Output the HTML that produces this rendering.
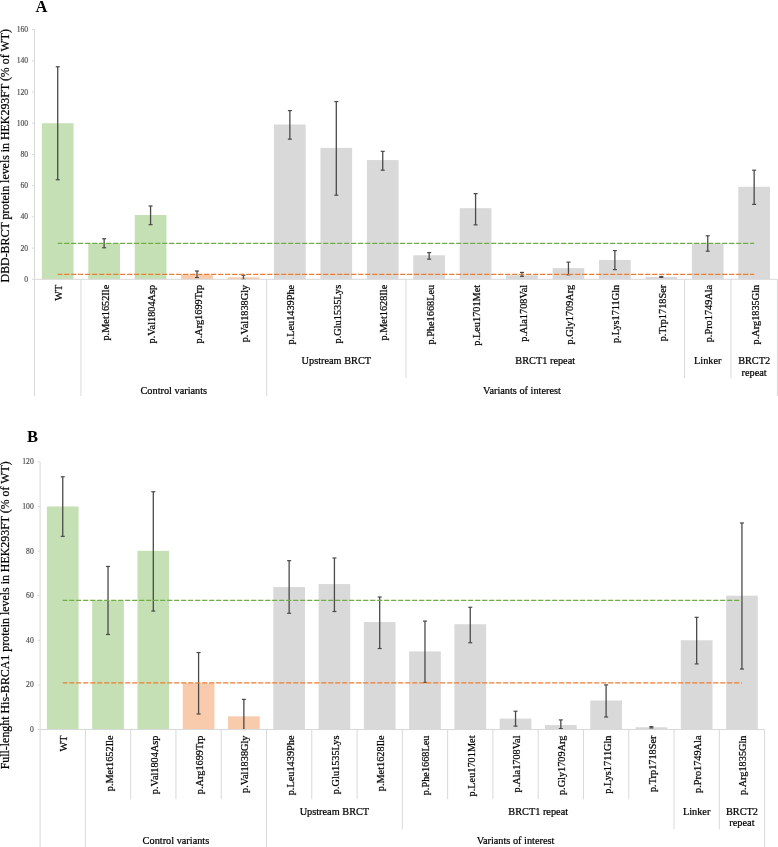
<!DOCTYPE html>
<html><head><meta charset="utf-8"><style>
html,body{margin:0;padding:0;background:#fff;width:778px;height:847px;overflow:hidden}
svg{display:block;will-change:transform}
text{font-family:"Liberation Serif", serif}
.t{stroke:#000;stroke-width:0.22}
</style></head><body>
<svg width="778" height="847" viewBox="0 0 778 847">
<rect width="778" height="847" fill="#fff"/>
<text x="35.5" y="11.8" font-family="Liberation Serif" font-weight="bold" font-size="16.5" fill="#000">A</text>
<text transform="translate(9.3,155.8) rotate(-90)" text-anchor="middle" font-family="Liberation Serif" font-size="11.9" fill="#000" class="t">DBD-BRCT protein levels in HEK293FT (% of WT)</text>
<line x1="32.0" y1="279.30" x2="34.5" y2="279.30" stroke="#d9d9d9" stroke-width="1"/>
<text x="28.1" y="281.90" text-anchor="end" font-family="Liberation Serif" font-size="7.6" fill="#4a4a4a" stroke="#4a4a4a" stroke-width="0.15">0</text>
<line x1="32.0" y1="248.09" x2="34.5" y2="248.09" stroke="#d9d9d9" stroke-width="1"/>
<text x="28.1" y="250.69" text-anchor="end" font-family="Liberation Serif" font-size="7.6" fill="#4a4a4a" stroke="#4a4a4a" stroke-width="0.15">20</text>
<line x1="32.0" y1="216.88" x2="34.5" y2="216.88" stroke="#d9d9d9" stroke-width="1"/>
<text x="28.1" y="219.48" text-anchor="end" font-family="Liberation Serif" font-size="7.6" fill="#4a4a4a" stroke="#4a4a4a" stroke-width="0.15">40</text>
<line x1="32.0" y1="185.66" x2="34.5" y2="185.66" stroke="#d9d9d9" stroke-width="1"/>
<text x="28.1" y="188.26" text-anchor="end" font-family="Liberation Serif" font-size="7.6" fill="#4a4a4a" stroke="#4a4a4a" stroke-width="0.15">60</text>
<line x1="32.0" y1="154.45" x2="34.5" y2="154.45" stroke="#d9d9d9" stroke-width="1"/>
<text x="28.1" y="157.05" text-anchor="end" font-family="Liberation Serif" font-size="7.6" fill="#4a4a4a" stroke="#4a4a4a" stroke-width="0.15">80</text>
<line x1="32.0" y1="123.24" x2="34.5" y2="123.24" stroke="#d9d9d9" stroke-width="1"/>
<text x="28.1" y="125.84" text-anchor="end" font-family="Liberation Serif" font-size="7.6" fill="#4a4a4a" stroke="#4a4a4a" stroke-width="0.15">100</text>
<line x1="32.0" y1="92.03" x2="34.5" y2="92.03" stroke="#d9d9d9" stroke-width="1"/>
<text x="28.1" y="94.63" text-anchor="end" font-family="Liberation Serif" font-size="7.6" fill="#4a4a4a" stroke="#4a4a4a" stroke-width="0.15">120</text>
<line x1="32.0" y1="60.82" x2="34.5" y2="60.82" stroke="#d9d9d9" stroke-width="1"/>
<text x="28.1" y="63.42" text-anchor="end" font-family="Liberation Serif" font-size="7.6" fill="#4a4a4a" stroke="#4a4a4a" stroke-width="0.15">140</text>
<line x1="32.0" y1="29.60" x2="34.5" y2="29.60" stroke="#d9d9d9" stroke-width="1"/>
<text x="28.1" y="32.20" text-anchor="end" font-family="Liberation Serif" font-size="7.6" fill="#4a4a4a" stroke="#4a4a4a" stroke-width="0.15">160</text>
<rect x="41.87" y="123.24" width="31.7" height="156.06" fill="#c5e0b4"/>
<rect x="88.30" y="243.25" width="31.7" height="36.05" fill="#c5e0b4"/>
<rect x="134.72" y="215.00" width="31.7" height="64.30" fill="#c5e0b4"/>
<rect x="181.16" y="274.46" width="31.7" height="4.84" fill="#f8cbad"/>
<rect x="227.59" y="277.27" width="31.7" height="2.03" fill="#f8cbad"/>
<rect x="274.01" y="124.49" width="31.7" height="154.81" fill="#d9d9d9"/>
<rect x="320.44" y="147.90" width="31.7" height="131.40" fill="#d9d9d9"/>
<rect x="366.88" y="160.07" width="31.7" height="119.23" fill="#d9d9d9"/>
<rect x="413.30" y="255.27" width="31.7" height="24.03" fill="#d9d9d9"/>
<rect x="459.73" y="208.14" width="31.7" height="71.16" fill="#d9d9d9"/>
<rect x="506.16" y="275.24" width="31.7" height="4.06" fill="#d9d9d9"/>
<rect x="552.60" y="268.06" width="31.7" height="11.24" fill="#d9d9d9"/>
<rect x="599.02" y="259.95" width="31.7" height="19.35" fill="#d9d9d9"/>
<rect x="645.45" y="276.96" width="31.7" height="2.34" fill="#d9d9d9"/>
<rect x="691.88" y="243.56" width="31.7" height="35.74" fill="#d9d9d9"/>
<rect x="738.31" y="186.76" width="31.7" height="92.54" fill="#d9d9d9"/>
<line x1="57.72" y1="179.73" x2="57.72" y2="66.75" stroke="#4a4a4a" stroke-width="1.3"/>
<line x1="55.72" y1="179.73" x2="59.72" y2="179.73" stroke="#4a4a4a" stroke-width="1.2"/>
<line x1="55.72" y1="66.75" x2="59.72" y2="66.75" stroke="#4a4a4a" stroke-width="1.2"/>
<line x1="104.14" y1="247.78" x2="104.14" y2="238.72" stroke="#4a4a4a" stroke-width="1.3"/>
<line x1="102.14" y1="247.78" x2="106.14" y2="247.78" stroke="#4a4a4a" stroke-width="1.2"/>
<line x1="102.14" y1="238.72" x2="106.14" y2="238.72" stroke="#4a4a4a" stroke-width="1.2"/>
<line x1="150.57" y1="224.68" x2="150.57" y2="205.95" stroke="#4a4a4a" stroke-width="1.3"/>
<line x1="148.57" y1="224.68" x2="152.57" y2="224.68" stroke="#4a4a4a" stroke-width="1.2"/>
<line x1="148.57" y1="205.95" x2="152.57" y2="205.95" stroke="#4a4a4a" stroke-width="1.2"/>
<line x1="197.00" y1="277.58" x2="197.00" y2="271.03" stroke="#4a4a4a" stroke-width="1.3"/>
<line x1="195.00" y1="277.58" x2="199.00" y2="277.58" stroke="#4a4a4a" stroke-width="1.2"/>
<line x1="195.00" y1="271.03" x2="199.00" y2="271.03" stroke="#4a4a4a" stroke-width="1.2"/>
<line x1="243.44" y1="279.30" x2="243.44" y2="275.24" stroke="#4a4a4a" stroke-width="1.3"/>
<line x1="241.44" y1="279.30" x2="245.44" y2="279.30" stroke="#4a4a4a" stroke-width="1.2"/>
<line x1="241.44" y1="275.24" x2="245.44" y2="275.24" stroke="#4a4a4a" stroke-width="1.2"/>
<line x1="289.87" y1="139.16" x2="289.87" y2="110.60" stroke="#4a4a4a" stroke-width="1.3"/>
<line x1="287.87" y1="139.16" x2="291.87" y2="139.16" stroke="#4a4a4a" stroke-width="1.2"/>
<line x1="287.87" y1="110.60" x2="291.87" y2="110.60" stroke="#4a4a4a" stroke-width="1.2"/>
<line x1="336.30" y1="195.18" x2="336.30" y2="101.55" stroke="#4a4a4a" stroke-width="1.3"/>
<line x1="334.30" y1="195.18" x2="338.30" y2="195.18" stroke="#4a4a4a" stroke-width="1.2"/>
<line x1="334.30" y1="101.55" x2="338.30" y2="101.55" stroke="#4a4a4a" stroke-width="1.2"/>
<line x1="382.73" y1="170.21" x2="382.73" y2="151.33" stroke="#4a4a4a" stroke-width="1.3"/>
<line x1="380.73" y1="170.21" x2="384.73" y2="170.21" stroke="#4a4a4a" stroke-width="1.2"/>
<line x1="380.73" y1="151.33" x2="384.73" y2="151.33" stroke="#4a4a4a" stroke-width="1.2"/>
<line x1="429.15" y1="259.17" x2="429.15" y2="252.61" stroke="#4a4a4a" stroke-width="1.3"/>
<line x1="427.15" y1="259.17" x2="431.15" y2="259.17" stroke="#4a4a4a" stroke-width="1.2"/>
<line x1="427.15" y1="252.61" x2="431.15" y2="252.61" stroke="#4a4a4a" stroke-width="1.2"/>
<line x1="475.58" y1="224.84" x2="475.58" y2="193.62" stroke="#4a4a4a" stroke-width="1.3"/>
<line x1="473.58" y1="224.84" x2="477.58" y2="224.84" stroke="#4a4a4a" stroke-width="1.2"/>
<line x1="473.58" y1="193.62" x2="477.58" y2="193.62" stroke="#4a4a4a" stroke-width="1.2"/>
<line x1="522.01" y1="276.33" x2="522.01" y2="272.43" stroke="#4a4a4a" stroke-width="1.3"/>
<line x1="520.01" y1="276.33" x2="524.01" y2="276.33" stroke="#4a4a4a" stroke-width="1.2"/>
<line x1="520.01" y1="272.43" x2="524.01" y2="272.43" stroke="#4a4a4a" stroke-width="1.2"/>
<line x1="568.45" y1="274.77" x2="568.45" y2="262.13" stroke="#4a4a4a" stroke-width="1.3"/>
<line x1="566.45" y1="274.77" x2="570.45" y2="274.77" stroke="#4a4a4a" stroke-width="1.2"/>
<line x1="566.45" y1="262.13" x2="570.45" y2="262.13" stroke="#4a4a4a" stroke-width="1.2"/>
<line x1="614.88" y1="269.62" x2="614.88" y2="250.58" stroke="#4a4a4a" stroke-width="1.3"/>
<line x1="612.88" y1="269.62" x2="616.88" y2="269.62" stroke="#4a4a4a" stroke-width="1.2"/>
<line x1="612.88" y1="250.58" x2="616.88" y2="250.58" stroke="#4a4a4a" stroke-width="1.2"/>
<line x1="661.30" y1="277.43" x2="661.30" y2="276.49" stroke="#4a4a4a" stroke-width="1.3"/>
<line x1="659.30" y1="277.43" x2="663.30" y2="277.43" stroke="#4a4a4a" stroke-width="1.2"/>
<line x1="659.30" y1="276.49" x2="663.30" y2="276.49" stroke="#4a4a4a" stroke-width="1.2"/>
<line x1="707.74" y1="251.21" x2="707.74" y2="235.76" stroke="#4a4a4a" stroke-width="1.3"/>
<line x1="705.74" y1="251.21" x2="709.74" y2="251.21" stroke="#4a4a4a" stroke-width="1.2"/>
<line x1="705.74" y1="235.76" x2="709.74" y2="235.76" stroke="#4a4a4a" stroke-width="1.2"/>
<line x1="754.16" y1="204.39" x2="754.16" y2="170.21" stroke="#4a4a4a" stroke-width="1.3"/>
<line x1="752.16" y1="204.39" x2="756.16" y2="204.39" stroke="#4a4a4a" stroke-width="1.2"/>
<line x1="752.16" y1="170.21" x2="756.16" y2="170.21" stroke="#4a4a4a" stroke-width="1.2"/>
<line x1="57.72" y1="243.41" x2="754.16" y2="243.41" stroke="#70ad47" stroke-width="1.2" stroke-dasharray="5.2 1.8" stroke-dashoffset="0.6"/>
<line x1="57.72" y1="274.46" x2="754.16" y2="274.46" stroke="#ed7d31" stroke-width="1.2" stroke-dasharray="5.2 1.8" stroke-dashoffset="0.6"/>
<line x1="34.5" y1="29.60" x2="34.5" y2="396" stroke="#d9d9d9" stroke-width="1"/>
<line x1="34.5" y1="279.3" x2="777.38" y2="279.3" stroke="#d9d9d9" stroke-width="1"/>
<line x1="80.93" y1="279.3" x2="80.93" y2="396" stroke="#d9d9d9" stroke-width="1"/>
<line x1="266.65" y1="279.3" x2="266.65" y2="396" stroke="#d9d9d9" stroke-width="1"/>
<line x1="777.38" y1="279.3" x2="777.38" y2="396" stroke="#d9d9d9" stroke-width="1"/>
<line x1="405.94" y1="279.3" x2="405.94" y2="378.3" stroke="#d9d9d9" stroke-width="1"/>
<line x1="684.52" y1="279.3" x2="684.52" y2="378.3" stroke="#d9d9d9" stroke-width="1"/>
<line x1="730.95" y1="279.3" x2="730.95" y2="378.3" stroke="#d9d9d9" stroke-width="1"/>
<text transform="translate(62.22,284.8) rotate(-90)" text-anchor="end" font-family="Liberation Serif" font-size="10.3" fill="#000" class="t">WT</text>
<text transform="translate(108.64,284.8) rotate(-90)" text-anchor="end" font-family="Liberation Serif" font-size="10.3" fill="#000" class="t">p.Met1652Ile</text>
<text transform="translate(155.07,284.8) rotate(-90)" text-anchor="end" font-family="Liberation Serif" font-size="10.3" fill="#000" class="t">p.Val1804Asp</text>
<text transform="translate(201.50,284.8) rotate(-90)" text-anchor="end" font-family="Liberation Serif" font-size="10.3" fill="#000" class="t">p.Arg1699Trp</text>
<text transform="translate(247.94,284.8) rotate(-90)" text-anchor="end" font-family="Liberation Serif" font-size="10.3" fill="#000" class="t">p.Val1838Gly</text>
<text transform="translate(294.37,284.8) rotate(-90)" text-anchor="end" font-family="Liberation Serif" font-size="10.3" fill="#000" class="t">p.Leu1439Phe</text>
<text transform="translate(340.80,284.8) rotate(-90)" text-anchor="end" font-family="Liberation Serif" font-size="10.3" fill="#000" class="t">p.Glu1535Lys</text>
<text transform="translate(387.23,284.8) rotate(-90)" text-anchor="end" font-family="Liberation Serif" font-size="10.3" fill="#000" class="t">p.Met1628Ile</text>
<text transform="translate(433.65,284.8) rotate(-90)" text-anchor="end" font-family="Liberation Serif" font-size="10.3" fill="#000" class="t">p.Phe1668Leu</text>
<text transform="translate(480.08,284.8) rotate(-90)" text-anchor="end" font-family="Liberation Serif" font-size="10.3" fill="#000" class="t">p.Leu1701Met</text>
<text transform="translate(526.51,284.8) rotate(-90)" text-anchor="end" font-family="Liberation Serif" font-size="10.3" fill="#000" class="t">p.Ala1708Val</text>
<text transform="translate(572.95,284.8) rotate(-90)" text-anchor="end" font-family="Liberation Serif" font-size="10.3" fill="#000" class="t">p.Gly1709Arg</text>
<text transform="translate(619.38,284.8) rotate(-90)" text-anchor="end" font-family="Liberation Serif" font-size="10.3" fill="#000" class="t">p.Lys1711Gln</text>
<text transform="translate(665.80,284.8) rotate(-90)" text-anchor="end" font-family="Liberation Serif" font-size="10.3" fill="#000" class="t">p.Trp1718Ser</text>
<text transform="translate(712.24,284.8) rotate(-90)" text-anchor="end" font-family="Liberation Serif" font-size="10.3" fill="#000" class="t">p.Pro1749Ala</text>
<text transform="translate(758.66,284.8) rotate(-90)" text-anchor="end" font-family="Liberation Serif" font-size="10.3" fill="#000" class="t">p.Arg1835Gln</text>
<text x="336.30" y="364.0" text-anchor="middle" font-family="Liberation Serif" font-size="10.3" fill="#000" class="t">Upstream BRCT</text>
<text x="545.23" y="364.0" text-anchor="middle" font-family="Liberation Serif" font-size="10.3" fill="#000" class="t">BRCT1 repeat</text>
<text x="707.74" y="364.0" text-anchor="middle" font-family="Liberation Serif" font-size="10.3" fill="#000" class="t">Linker</text>
<text x="754.16" y="364.0" text-anchor="middle" font-family="Liberation Serif" font-size="10.3" fill="#000" class="t">BRCT2</text>
<text x="754.16" y="375.5" text-anchor="middle" font-family="Liberation Serif" font-size="10.3" fill="#000" class="t">repeat</text>
<text x="173.79" y="393.5" text-anchor="middle" font-family="Liberation Serif" font-size="10.3" fill="#000" class="t">Control variants</text>
<text x="522.01" y="393.5" text-anchor="middle" font-family="Liberation Serif" font-size="10.3" fill="#000" class="t">Variants of interest</text>
<text x="27.0" y="441.9" font-family="Liberation Serif" font-weight="bold" font-size="16.5" fill="#000">B</text>
<text transform="translate(8.9,615.3) rotate(-90)" text-anchor="middle" font-family="Liberation Serif" font-size="11.9" fill="#000" class="t">Full-lenght His-BRCA1 protein levels in HEK293FT (% of WT)</text>
<line x1="37.6" y1="729.50" x2="40.1" y2="729.50" stroke="#d9d9d9" stroke-width="1"/>
<text x="33.7" y="732.10" text-anchor="end" font-family="Liberation Serif" font-size="7.6" fill="#4a4a4a" stroke="#4a4a4a" stroke-width="0.15">0</text>
<line x1="37.6" y1="684.89" x2="40.1" y2="684.89" stroke="#d9d9d9" stroke-width="1"/>
<text x="33.7" y="687.49" text-anchor="end" font-family="Liberation Serif" font-size="7.6" fill="#4a4a4a" stroke="#4a4a4a" stroke-width="0.15">20</text>
<line x1="37.6" y1="640.28" x2="40.1" y2="640.28" stroke="#d9d9d9" stroke-width="1"/>
<text x="33.7" y="642.88" text-anchor="end" font-family="Liberation Serif" font-size="7.6" fill="#4a4a4a" stroke="#4a4a4a" stroke-width="0.15">40</text>
<line x1="37.6" y1="595.67" x2="40.1" y2="595.67" stroke="#d9d9d9" stroke-width="1"/>
<text x="33.7" y="598.27" text-anchor="end" font-family="Liberation Serif" font-size="7.6" fill="#4a4a4a" stroke="#4a4a4a" stroke-width="0.15">60</text>
<line x1="37.6" y1="551.06" x2="40.1" y2="551.06" stroke="#d9d9d9" stroke-width="1"/>
<text x="33.7" y="553.66" text-anchor="end" font-family="Liberation Serif" font-size="7.6" fill="#4a4a4a" stroke="#4a4a4a" stroke-width="0.15">80</text>
<line x1="37.6" y1="506.45" x2="40.1" y2="506.45" stroke="#d9d9d9" stroke-width="1"/>
<text x="33.7" y="509.05" text-anchor="end" font-family="Liberation Serif" font-size="7.6" fill="#4a4a4a" stroke="#4a4a4a" stroke-width="0.15">100</text>
<line x1="37.6" y1="461.84" x2="40.1" y2="461.84" stroke="#d9d9d9" stroke-width="1"/>
<text x="33.7" y="464.44" text-anchor="end" font-family="Liberation Serif" font-size="7.6" fill="#4a4a4a" stroke="#4a4a4a" stroke-width="0.15">120</text>
<rect x="46.89" y="506.45" width="31.7" height="223.05" fill="#c5e0b4"/>
<rect x="92.17" y="600.35" width="31.7" height="129.15" fill="#c5e0b4"/>
<rect x="137.45" y="550.84" width="31.7" height="178.66" fill="#c5e0b4"/>
<rect x="182.73" y="683.11" width="31.7" height="46.39" fill="#f8cbad"/>
<rect x="228.01" y="716.34" width="31.7" height="13.16" fill="#f8cbad"/>
<rect x="273.29" y="586.97" width="31.7" height="142.53" fill="#d9d9d9"/>
<rect x="318.57" y="584.07" width="31.7" height="145.43" fill="#d9d9d9"/>
<rect x="363.85" y="621.99" width="31.7" height="107.51" fill="#d9d9d9"/>
<rect x="409.13" y="651.43" width="31.7" height="78.07" fill="#d9d9d9"/>
<rect x="454.41" y="624.22" width="31.7" height="105.28" fill="#d9d9d9"/>
<rect x="499.69" y="718.57" width="31.7" height="10.93" fill="#d9d9d9"/>
<rect x="544.97" y="725.04" width="31.7" height="4.46" fill="#d9d9d9"/>
<rect x="590.25" y="700.50" width="31.7" height="29.00" fill="#d9d9d9"/>
<rect x="635.53" y="727.27" width="31.7" height="2.23" fill="#d9d9d9"/>
<rect x="680.81" y="640.28" width="31.7" height="89.22" fill="#d9d9d9"/>
<rect x="726.09" y="595.67" width="31.7" height="133.83" fill="#d9d9d9"/>
<line x1="62.74" y1="536.34" x2="62.74" y2="476.78" stroke="#4a4a4a" stroke-width="1.3"/>
<line x1="60.74" y1="536.34" x2="64.74" y2="536.34" stroke="#4a4a4a" stroke-width="1.2"/>
<line x1="60.74" y1="476.78" x2="64.74" y2="476.78" stroke="#4a4a4a" stroke-width="1.2"/>
<line x1="108.02" y1="634.48" x2="108.02" y2="566.45" stroke="#4a4a4a" stroke-width="1.3"/>
<line x1="106.02" y1="634.48" x2="110.02" y2="634.48" stroke="#4a4a4a" stroke-width="1.2"/>
<line x1="106.02" y1="566.45" x2="110.02" y2="566.45" stroke="#4a4a4a" stroke-width="1.2"/>
<line x1="153.30" y1="611.06" x2="153.30" y2="491.73" stroke="#4a4a4a" stroke-width="1.3"/>
<line x1="151.30" y1="611.06" x2="155.30" y2="611.06" stroke="#4a4a4a" stroke-width="1.2"/>
<line x1="151.30" y1="491.73" x2="155.30" y2="491.73" stroke="#4a4a4a" stroke-width="1.2"/>
<line x1="198.58" y1="714.00" x2="198.58" y2="652.55" stroke="#4a4a4a" stroke-width="1.3"/>
<line x1="196.58" y1="714.00" x2="200.58" y2="714.00" stroke="#4a4a4a" stroke-width="1.2"/>
<line x1="196.58" y1="652.55" x2="200.58" y2="652.55" stroke="#4a4a4a" stroke-width="1.2"/>
<line x1="243.86" y1="729.50" x2="243.86" y2="699.39" stroke="#4a4a4a" stroke-width="1.3"/>
<line x1="241.86" y1="729.50" x2="245.86" y2="729.50" stroke="#4a4a4a" stroke-width="1.2"/>
<line x1="241.86" y1="699.39" x2="245.86" y2="699.39" stroke="#4a4a4a" stroke-width="1.2"/>
<line x1="289.14" y1="613.29" x2="289.14" y2="560.65" stroke="#4a4a4a" stroke-width="1.3"/>
<line x1="287.14" y1="613.29" x2="291.14" y2="613.29" stroke="#4a4a4a" stroke-width="1.2"/>
<line x1="287.14" y1="560.65" x2="291.14" y2="560.65" stroke="#4a4a4a" stroke-width="1.2"/>
<line x1="334.42" y1="611.51" x2="334.42" y2="557.97" stroke="#4a4a4a" stroke-width="1.3"/>
<line x1="332.42" y1="611.51" x2="336.42" y2="611.51" stroke="#4a4a4a" stroke-width="1.2"/>
<line x1="332.42" y1="557.97" x2="336.42" y2="557.97" stroke="#4a4a4a" stroke-width="1.2"/>
<line x1="379.70" y1="648.53" x2="379.70" y2="597.01" stroke="#4a4a4a" stroke-width="1.3"/>
<line x1="377.70" y1="648.53" x2="381.70" y2="648.53" stroke="#4a4a4a" stroke-width="1.2"/>
<line x1="377.70" y1="597.01" x2="381.70" y2="597.01" stroke="#4a4a4a" stroke-width="1.2"/>
<line x1="424.98" y1="682.44" x2="424.98" y2="621.10" stroke="#4a4a4a" stroke-width="1.3"/>
<line x1="422.98" y1="682.44" x2="426.98" y2="682.44" stroke="#4a4a4a" stroke-width="1.2"/>
<line x1="422.98" y1="621.10" x2="426.98" y2="621.10" stroke="#4a4a4a" stroke-width="1.2"/>
<line x1="470.26" y1="642.73" x2="470.26" y2="607.27" stroke="#4a4a4a" stroke-width="1.3"/>
<line x1="468.26" y1="642.73" x2="472.26" y2="642.73" stroke="#4a4a4a" stroke-width="1.2"/>
<line x1="468.26" y1="607.27" x2="472.26" y2="607.27" stroke="#4a4a4a" stroke-width="1.2"/>
<line x1="515.54" y1="726.15" x2="515.54" y2="711.21" stroke="#4a4a4a" stroke-width="1.3"/>
<line x1="513.54" y1="726.15" x2="517.54" y2="726.15" stroke="#4a4a4a" stroke-width="1.2"/>
<line x1="513.54" y1="711.21" x2="517.54" y2="711.21" stroke="#4a4a4a" stroke-width="1.2"/>
<line x1="560.82" y1="728.61" x2="560.82" y2="719.91" stroke="#4a4a4a" stroke-width="1.3"/>
<line x1="558.82" y1="728.61" x2="562.82" y2="728.61" stroke="#4a4a4a" stroke-width="1.2"/>
<line x1="558.82" y1="719.91" x2="562.82" y2="719.91" stroke="#4a4a4a" stroke-width="1.2"/>
<line x1="606.10" y1="717.01" x2="606.10" y2="684.89" stroke="#4a4a4a" stroke-width="1.3"/>
<line x1="604.10" y1="717.01" x2="608.10" y2="717.01" stroke="#4a4a4a" stroke-width="1.2"/>
<line x1="604.10" y1="684.89" x2="608.10" y2="684.89" stroke="#4a4a4a" stroke-width="1.2"/>
<line x1="651.38" y1="727.94" x2="651.38" y2="726.60" stroke="#4a4a4a" stroke-width="1.3"/>
<line x1="649.38" y1="727.94" x2="653.38" y2="727.94" stroke="#4a4a4a" stroke-width="1.2"/>
<line x1="649.38" y1="726.60" x2="653.38" y2="726.60" stroke="#4a4a4a" stroke-width="1.2"/>
<line x1="696.66" y1="663.92" x2="696.66" y2="617.31" stroke="#4a4a4a" stroke-width="1.3"/>
<line x1="694.66" y1="663.92" x2="698.66" y2="663.92" stroke="#4a4a4a" stroke-width="1.2"/>
<line x1="694.66" y1="617.31" x2="698.66" y2="617.31" stroke="#4a4a4a" stroke-width="1.2"/>
<line x1="741.94" y1="669.05" x2="741.94" y2="522.96" stroke="#4a4a4a" stroke-width="1.3"/>
<line x1="739.94" y1="669.05" x2="743.94" y2="669.05" stroke="#4a4a4a" stroke-width="1.2"/>
<line x1="739.94" y1="522.96" x2="743.94" y2="522.96" stroke="#4a4a4a" stroke-width="1.2"/>
<line x1="62.74" y1="600.35" x2="741.94" y2="600.35" stroke="#70ad47" stroke-width="1.2" stroke-dasharray="5.2 1.8" stroke-dashoffset="0.6"/>
<line x1="62.74" y1="682.88" x2="741.94" y2="682.88" stroke="#ed7d31" stroke-width="1.2" stroke-dasharray="5.2 1.8" stroke-dashoffset="0.6"/>
<line x1="40.1" y1="461.84" x2="40.1" y2="847" stroke="#d9d9d9" stroke-width="1"/>
<line x1="40.1" y1="729.5" x2="764.58" y2="729.5" stroke="#d9d9d9" stroke-width="1"/>
<line x1="85.38" y1="729.5" x2="85.38" y2="847" stroke="#d9d9d9" stroke-width="1"/>
<line x1="266.50" y1="729.5" x2="266.50" y2="847" stroke="#d9d9d9" stroke-width="1"/>
<line x1="764.58" y1="729.5" x2="764.58" y2="847" stroke="#d9d9d9" stroke-width="1"/>
<line x1="402.34" y1="729.5" x2="402.34" y2="829.3" stroke="#d9d9d9" stroke-width="1"/>
<line x1="130.66" y1="729.5" x2="130.66" y2="799.2" stroke="#d9d9d9" stroke-width="1"/>
<line x1="175.94" y1="729.5" x2="175.94" y2="799.2" stroke="#d9d9d9" stroke-width="1"/>
<line x1="221.22" y1="729.5" x2="221.22" y2="799.2" stroke="#d9d9d9" stroke-width="1"/>
<line x1="311.78" y1="729.5" x2="311.78" y2="799.2" stroke="#d9d9d9" stroke-width="1"/>
<line x1="357.06" y1="729.5" x2="357.06" y2="799.2" stroke="#d9d9d9" stroke-width="1"/>
<line x1="447.62" y1="729.5" x2="447.62" y2="799.2" stroke="#d9d9d9" stroke-width="1"/>
<line x1="492.90" y1="729.5" x2="492.90" y2="799.2" stroke="#d9d9d9" stroke-width="1"/>
<line x1="538.18" y1="729.5" x2="538.18" y2="799.2" stroke="#d9d9d9" stroke-width="1"/>
<line x1="583.46" y1="729.5" x2="583.46" y2="799.2" stroke="#d9d9d9" stroke-width="1"/>
<line x1="628.74" y1="729.5" x2="628.74" y2="799.2" stroke="#d9d9d9" stroke-width="1"/>
<line x1="674.02" y1="729.5" x2="674.02" y2="829.3" stroke="#d9d9d9" stroke-width="1"/>
<line x1="719.30" y1="729.5" x2="719.30" y2="829.3" stroke="#d9d9d9" stroke-width="1"/>
<text transform="translate(67.24,735.5) rotate(-90)" text-anchor="end" font-family="Liberation Serif" font-size="10.3" fill="#000" class="t">WT</text>
<text transform="translate(112.52,735.5) rotate(-90)" text-anchor="end" font-family="Liberation Serif" font-size="10.3" fill="#000" class="t">p.Met1652Ile</text>
<text transform="translate(157.80,735.5) rotate(-90)" text-anchor="end" font-family="Liberation Serif" font-size="10.3" fill="#000" class="t">p.Val1804Asp</text>
<text transform="translate(203.08,735.5) rotate(-90)" text-anchor="end" font-family="Liberation Serif" font-size="10.3" fill="#000" class="t">p.Arg1699Trp</text>
<text transform="translate(248.36,735.5) rotate(-90)" text-anchor="end" font-family="Liberation Serif" font-size="10.3" fill="#000" class="t">p.Val1838Gly</text>
<text transform="translate(293.64,735.5) rotate(-90)" text-anchor="end" font-family="Liberation Serif" font-size="10.3" fill="#000" class="t">p.Leu1439Phe</text>
<text transform="translate(338.92,735.5) rotate(-90)" text-anchor="end" font-family="Liberation Serif" font-size="10.3" fill="#000" class="t">p.Glu1535Lys</text>
<text transform="translate(384.20,735.5) rotate(-90)" text-anchor="end" font-family="Liberation Serif" font-size="10.3" fill="#000" class="t">p.Met1628Ile</text>
<text transform="translate(429.48,735.5) rotate(-90)" text-anchor="end" font-family="Liberation Serif" font-size="10.3" fill="#000" class="t">p.Phe1668Leu</text>
<text transform="translate(474.76,735.5) rotate(-90)" text-anchor="end" font-family="Liberation Serif" font-size="10.3" fill="#000" class="t">p.Leu1701Met</text>
<text transform="translate(520.04,735.5) rotate(-90)" text-anchor="end" font-family="Liberation Serif" font-size="10.3" fill="#000" class="t">p.Ala1708Val</text>
<text transform="translate(565.32,735.5) rotate(-90)" text-anchor="end" font-family="Liberation Serif" font-size="10.3" fill="#000" class="t">p.Gly1709Arg</text>
<text transform="translate(610.60,735.5) rotate(-90)" text-anchor="end" font-family="Liberation Serif" font-size="10.3" fill="#000" class="t">p.Lys1711Gln</text>
<text transform="translate(655.88,735.5) rotate(-90)" text-anchor="end" font-family="Liberation Serif" font-size="10.3" fill="#000" class="t">p.Trp1718Ser</text>
<text transform="translate(701.16,735.5) rotate(-90)" text-anchor="end" font-family="Liberation Serif" font-size="10.3" fill="#000" class="t">p.Pro1749Ala</text>
<text transform="translate(746.44,735.5) rotate(-90)" text-anchor="end" font-family="Liberation Serif" font-size="10.3" fill="#000" class="t">p.Arg1835Gln</text>
<text x="334.42" y="814.7" text-anchor="middle" font-family="Liberation Serif" font-size="10.3" fill="#000" class="t">Upstream BRCT</text>
<text x="538.18" y="814.7" text-anchor="middle" font-family="Liberation Serif" font-size="10.3" fill="#000" class="t">BRCT1 repeat</text>
<text x="696.66" y="814.7" text-anchor="middle" font-family="Liberation Serif" font-size="10.3" fill="#000" class="t">Linker</text>
<text x="741.94" y="814.7" text-anchor="middle" font-family="Liberation Serif" font-size="10.3" fill="#000" class="t">BRCT2</text>
<text x="741.94" y="826.2" text-anchor="middle" font-family="Liberation Serif" font-size="10.3" fill="#000" class="t">repeat</text>
<text x="175.94" y="843.5" text-anchor="middle" font-family="Liberation Serif" font-size="10.3" fill="#000" class="t">Control variants</text>
<text x="515.54" y="843.5" text-anchor="middle" font-family="Liberation Serif" font-size="10.3" fill="#000" class="t">Variants of interest</text>
</svg></body></html>
